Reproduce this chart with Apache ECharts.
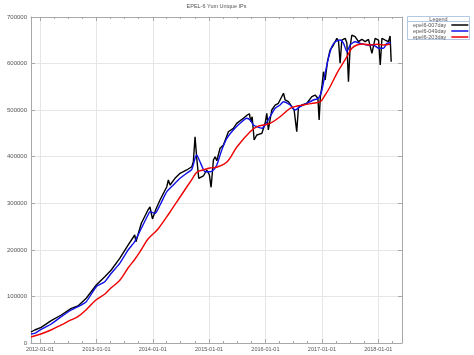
<!DOCTYPE html>
<html><head><meta charset="utf-8">
<script src="https://cdn.jsdelivr.net/npm/echarts@6/dist/echarts.min.js"></script>
<style>html,body{margin:0;padding:0;background:#fff}#c{width:474px;height:355px}</style>
</head><body><div id="c"></div>
<script>
const titleText = 'EPEL-6 Yum Unique IPs';
const seriesNames = ['epel6-007day', 'epel6-049day', 'epel6-203day'];
const yearTicks = ['2012-01-01','2013-01-01','2014-01-01','2015-01-01','2016-01-01','2017-01-01','2018-01-01'];
const quarterTicks = ['2012-04-01','2012-07-01','2012-10-01','2013-04-01','2013-07-01','2013-10-01','2014-04-01','2014-07-01','2014-10-01','2015-04-01','2015-07-01','2015-10-01','2016-04-01','2016-07-01','2016-10-01','2017-04-01','2017-07-01','2017-10-01','2018-04-01'];
const xMin = '2011-11-04', xMax = '2018-06-04';

const d007 = ['2011-11-04','2011-11-28','2012-01-09','2012-03-14','2012-05-18','2012-07-22','2012-09-03','2012-10-27','2012-12-31','2013-02-24','2013-04-07','2013-06-01','2013-07-25','2013-09-06','2013-09-14','2013-10-19','2013-12-01','2013-12-14','2013-12-30','2014-01-22','2014-02-17','2014-04-02','2014-04-12','2014-04-23','2014-05-25','2014-06-27','2014-08-09','2014-09-11','2014-09-21','2014-10-02','2014-10-13','2014-10-26','2014-11-25','2014-12-17','2015-01-03','2015-01-14','2015-01-29','2015-02-09','2015-02-20','2015-03-13','2015-04-04','2015-05-06','2015-06-07','2015-06-29','2015-08-11','2015-09-06','2015-09-19','2015-09-28','2015-10-07','2015-10-20','2015-11-06','2015-12-09','2015-12-30','2016-01-10','2016-01-20','2016-02-11','2016-03-04','2016-03-25','2016-04-05','2016-04-27','2016-05-08','2016-05-29','2016-06-20','2016-07-05','2016-07-22','2016-08-02','2016-08-24','2016-09-25','2016-10-28','2016-11-18','2016-12-06','2016-12-14','2016-12-22','2017-01-01','2017-01-11','2017-01-22','2017-02-06','2017-02-23','2017-03-17','2017-04-08','2017-04-19','2017-04-29','2017-05-10','2017-06-01','2017-06-12','2017-06-22','2017-07-03','2017-07-14','2017-08-04','2017-08-26','2017-09-17','2017-10-08','2017-10-30','2017-11-21','2017-12-12','2018-01-03','2018-01-14','2018-01-25','2018-02-15','2018-03-08','2018-03-19','2018-03-26'];
const v007 = [23600,27900,33700,47900,60100,74500,79400,96000,124500,142400,156700,181900,210400,231900,217500,257000,285600,292000,266300,287700,307000,335600,350000,339300,353600,364400,371500,378500,389300,443000,396600,353600,358600,371500,360700,334300,392900,400000,391400,418100,425100,453700,461000,471700,482500,489600,492300,475200,485900,435900,446600,450300,471700,493200,457400,500300,511000,514700,514700,536200,521800,518100,507400,500300,453700,506100,511000,514700,528900,532500,525400,478800,528900,550300,582500,564700,604000,629100,639900,654300,647000,600600,650600,654300,643500,561100,636200,661300,657700,647000,652100,647000,652100,622000,654300,650600,596900,654300,650600,647000,659200,604000];

const d049 = ['2011-11-04','2011-11-28','2012-01-09','2012-03-14','2012-05-18','2012-07-22','2012-09-03','2012-10-27','2012-12-31','2013-02-24','2013-04-07','2013-06-01','2013-07-25','2013-09-06','2013-10-19','2013-12-01','2013-12-14','2014-01-16','2014-02-17','2014-04-02','2014-05-14','2014-06-27','2014-08-09','2014-09-11','2014-10-02','2014-10-13','2014-11-03','2014-12-06','2015-01-07','2015-01-29','2015-02-20','2015-03-24','2015-04-26','2015-06-07','2015-07-21','2015-09-02','2015-09-24','2015-10-15','2015-11-06','2015-12-09','2015-12-30','2016-01-31','2016-03-04','2016-04-05','2016-04-27','2016-06-09','2016-07-11','2016-08-13','2016-09-25','2016-11-07','2016-12-09','2017-01-01','2017-01-22','2017-02-12','2017-03-06','2017-03-28','2017-04-29','2017-05-21','2017-06-12','2017-07-03','2017-08-04','2017-09-06','2017-10-19','2017-12-01','2018-01-03','2018-02-04','2018-02-26','2018-03-24'];
const v049 = [19300,20800,29400,40800,56500,70900,77900,88700,120900,131600,149700,171100,199700,217500,246300,274800,281900,278500,296300,324900,339300,353600,364400,373000,396600,403700,389300,367800,367800,371500,382200,414400,439500,457400,471700,482500,478800,468100,464400,461000,468100,485900,503900,511000,518100,511000,500300,507400,514700,521800,525400,543200,579100,611300,636200,647000,650600,643500,625500,639900,647000,643500,639900,639900,632800,632800,643500,644800];

const d203 = ['2011-11-04','2012-01-07','2012-03-12','2012-05-16','2012-07-20','2012-09-03','2012-10-25','2012-12-29','2013-02-25','2013-04-05','2013-06-03','2013-07-25','2013-09-08','2013-10-17','2013-12-01','2014-02-04','2014-04-23','2014-06-27','2014-09-13','2014-10-15','2014-11-23','2015-01-07','2015-02-22','2015-04-28','2015-07-01','2015-09-24','2015-11-08','2016-01-31','2016-04-05','2016-06-09','2016-07-24','2016-09-01','2016-10-30','2016-12-21','2017-01-22','2017-02-23','2017-04-08','2017-05-10','2017-06-12','2017-07-14','2017-08-16','2017-09-25','2017-11-10','2017-12-25','2018-02-02','2018-03-19'];
const v203 = [12900,19300,27900,38600,49400,56500,70900,92300,105200,118100,135300,161000,180400,199700,223300,244800,281300,313500,352100,367200,371500,375800,377900,389300,421500,453700,464400,471700,485900,503900,508900,511000,514700,518100,532500,550300,579100,596900,614800,632800,639900,642000,639900,641400,639900,641400];

const yMin = 0, yMax = 700000, yStep = 100000;

function ts(s) { const p = s.split('-').map(Number); return Date.UTC(p[0], p[1] - 1, p[2]); }
function zip(d, v) { return d.map((x, i) => [ts(x), v[i]]); }
function fmtDate(v) {
  const d = new Date(v);
  const p = n => (n < 10 ? '0' : '') + n;
  return d.getUTCFullYear() + '-' + p(d.getUTCMonth() + 1) + '-' + p(d.getUTCDate());
}

const FONT = 'Liberation Sans';
const TXT = '#555';
const FRAME = '#a8a8a8';
const GRIDC = '#e6e6e6';
const gridBox = { left: 31, right: 72, top: 17, bottom: 12, containLabel: false };
const yrs = yearTicks.map(ts), qtr = quarterTicks.map(ts);

function xAx(grid, pos, ticks, len, opts) {
  return Object.assign({
    type: 'value', gridIndex: grid, position: pos, min: ts(xMin), max: ts(xMax), scale: true,
    axisLine: { show: false },
    axisTick: { show: true, inside: true, length: len, customValues: ticks, lineStyle: { color: FRAME } },
    axisLabel: { show: false }, splitLine: { show: false }
  }, opts || {});
}

const chart = echarts.init(document.getElementById('c'), null, { renderer: 'canvas' });
chart.setOption({
  animation: false,
  backgroundColor: '#fff',
  grid: [Object.assign({}, gridBox), Object.assign({}, gridBox)],
  xAxis: [
    xAx(0, 'bottom', yrs, 4, {
      axisLine: { show: true, onZero: false, lineStyle: { color: FRAME, width: 1 } },
      axisLabel: { show: true, customValues: yrs, formatter: fmtDate, fontFamily: FONT, fontSize: 5.5, color: TXT, margin: 3, hideOverlap: false },
      splitLine: { show: true, lineStyle: { color: GRIDC, width: 1 } } }),
    xAx(0, 'top', yrs, 4, { axisLine: { show: true, onZero: false, lineStyle: { color: FRAME, width: 1 } } }),
    xAx(1, 'bottom', qtr, 2),
    xAx(1, 'top', qtr, 2)
  ],
  yAxis: [
    { type: 'value', gridIndex: 0, position: 'left', min: yMin, max: yMax, interval: yStep,
      axisLine: { show: true, onZero: false, lineStyle: { color: FRAME, width: 1 } },
      axisTick: { show: true, inside: true, length: 4, lineStyle: { color: FRAME } },
      axisLabel: { show: true, formatter: v => String(v), fontFamily: FONT, fontSize: 6, color: TXT, margin: 4 },
      splitLine: { show: true, lineStyle: { color: GRIDC, width: 1 } } },
    { type: 'value', gridIndex: 0, position: 'right', min: yMin, max: yMax, interval: yStep,
      axisLine: { show: true, onZero: false, lineStyle: { color: FRAME, width: 1 } },
      axisTick: { show: true, inside: true, length: 4, lineStyle: { color: FRAME } },
      axisLabel: { show: false }, splitLine: { show: false } },
    { type: 'value', gridIndex: 1, min: yMin, max: yMax, show: false }
  ],
  legend: {
    orient: 'vertical', left: 413, top: 22, align: 'right', icon: 'rect',
    itemWidth: 17, itemHeight: 1.5, itemGap: 0, padding: 0,
    textStyle: { fontFamily: FONT, fontSize: 5.5, color: TXT, lineHeight: 5.3 },
    data: seriesNames
  },
  graphic: [
    { type: 'text', x: 216.5, y: 6, style: { text: titleText, font: '5.5px "Liberation Sans"', fill: TXT, textAlign: 'center', textVerticalAlign: 'middle' } },
    { type: 'rect', shape: { x: 407.5, y: 16.5, width: 62, height: 23 }, style: { fill: 'none', stroke: '#b4c8e6', lineWidth: 1 } },
    { type: 'line', shape: { x1: 407.5, y1: 21.5, x2: 469.5, y2: 21.5 }, style: { stroke: '#b4c8e6', lineWidth: 1 } },
    { type: 'text', x: 438.5, y: 19, style: { text: 'Legend', font: '5.5px "Liberation Sans"', fill: TXT, textAlign: 'center', textVerticalAlign: 'middle' } }
  ],
  series: [
    { name: seriesNames[0], type: 'line', xAxisIndex: 0, yAxisIndex: 0, data: zip(d007, v007), showSymbol: false, color: '#000000', lineStyle: { width: 1.4, color: '#000000' } },
    { name: seriesNames[1], type: 'line', xAxisIndex: 0, yAxisIndex: 0, data: zip(d049, v049), showSymbol: false, smooth: 0.2, color: '#1010e8', lineStyle: { width: 1.4, color: '#1010e8' } },
    { name: seriesNames[2], type: 'line', xAxisIndex: 0, yAxisIndex: 0, data: zip(d203, v203), showSymbol: false, smooth: 0.35, color: '#ee0000', lineStyle: { width: 1.4, color: '#ee0000' } }
  ]
});
</script></body></html>
